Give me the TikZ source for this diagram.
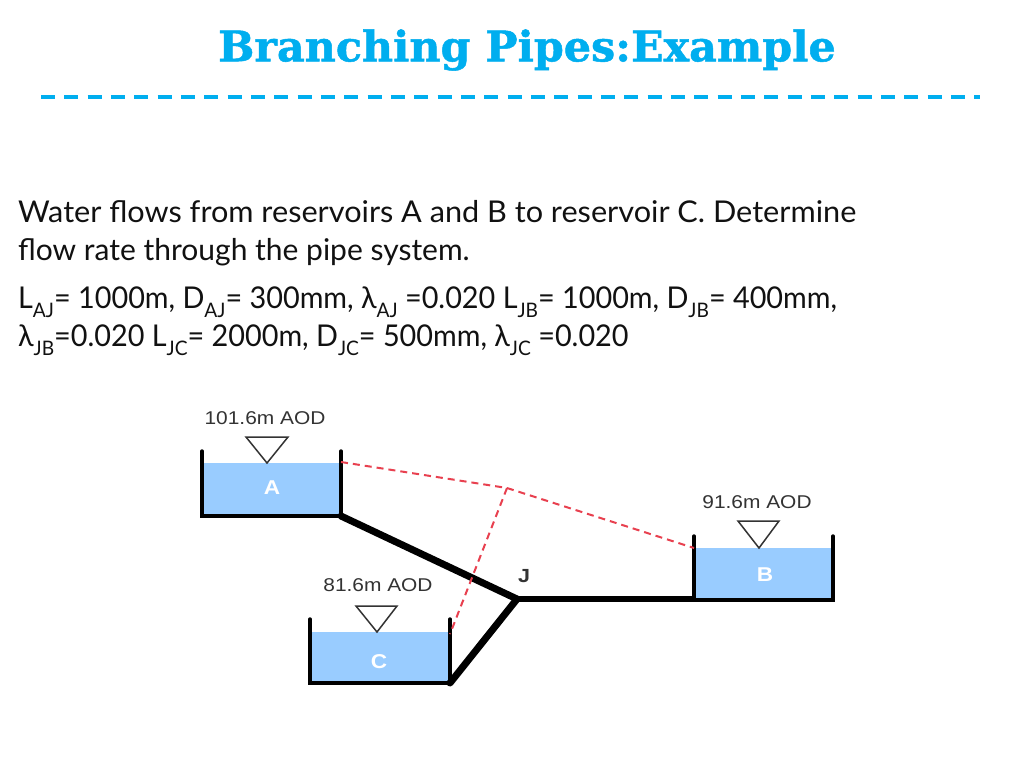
\documentclass[tikz,border=0pt]{standalone}
\usepackage{fontspec}
\setmainfont{Lato}
\newfontfamily\titlefont{DejaVu Serif}[FakeBold=1.2,FakeStretch=1.02]
\newfontfamily\labelfont{Liberation Sans}[FakeStretch=1.13]
\usetikzlibrary{calc}
\definecolor{titleblue}{HTML}{00AEEF}
\definecolor{water}{HTML}{99CCFF}
\definecolor{hgl}{HTML}{E8404F}
\definecolor{txt}{HTML}{111111}
\definecolor{lab}{HTML}{333333}
\newcommand{\lowtxt}[1]{\raisebox{-0.3em}{\fontsize{20}{20}\selectfont #1}}
\tikzset{
  x=1pt,y=-1pt,
  wall/.style={line width=3.4pt,draw=black,line cap=round,line join=miter},
  pipebig/.style={line width=7pt,draw=black,line cap=round},
  pipemid/.style={line width=5.5pt,draw=black,line cap=butt},
  gradeline/.style={draw=hgl,line width=2pt,dash pattern=on 7pt off 5pt},
  rule/.style={draw=titleblue,line width=3.3pt,dash pattern=on 14pt off 9.33pt},
  level/.style={draw=lab,line width=1.5pt,line join=miter},
  body/.style={anchor=base west,inner sep=0pt,text=txt,font=\fontsize{30}{30}\selectfont},
  aod/.style={inner sep=0pt,text=lab,font=\labelfont\fontsize{18.5}{18.5}\selectfont},
  tag/.style={inner sep=0pt,text=white,font=\labelfont\bfseries\fontsize{20}{20}\selectfont},
}
\begin{document}
\begin{tikzpicture}
\useasboundingbox (0,0) rectangle (1024,766);
\fill[white] (0,0) rectangle (1024,766);
% title
\node[inner sep=0pt,text=titleblue,font=\titlefont\bfseries\fontsize{42}{42}\selectfont] (title) at (527,50) {Branching Pipes:Example};
\coordinate (ruleL) at (41,97);
\coordinate (ruleR) at (980,97);
\draw[rule] (ruleL) -- (ruleR);
% text
\node[body] (line1) at (18,222) {\scalebox{1.022}[1]{Water flows from reservoirs A and B to reservoir C. Determine}};
\node[body] (line2) at (18,260) {flow rate through the pipe system.};
\node[body] (line3) at (18,308) {\scalebox{0.96}[1]{L\lowtxt{AJ}= 1000m, D\lowtxt{AJ}= 300mm, λ\lowtxt{AJ} =0.020 L\lowtxt{JB}= 1000m, D\lowtxt{JB}= 400mm,}};
\node[body] (line4) at (18,346) {\scalebox{0.96}[1]{λ\lowtxt{JB}=0.020 L\lowtxt{JC}= 2000m, D\lowtxt{JC}= 500mm, λ\lowtxt{JC} =0.020}};
% water
\fill[water] (202,463) rectangle (341,516);
\fill[water] (310,632) rectangle (450,683);
\fill[water] (694,548) rectangle (833,600);
% reference points
\coordinate (J) at (517,599);
\coordinate (Aout) at (341,516);
\coordinate (Cin) at (450,683);
\coordinate (Bout) at (694,599);
\coordinate (Alev) at (341,462);
\coordinate (Blev) at (694,548);
\coordinate (Clev) at (450,634);
\coordinate (Hj) at (507,488);
% pipes
\draw[pipebig] (Aout) -- (J);
\draw[pipebig] (Cin) -- (J);
\draw[pipemid] (J) -- (Bout);
% tanks
\draw[wall] (202,451) -- (202,516) -- (341,516) -- (341,451);
\draw[wall] (310,619) -- (310,683) -- (450,683) -- (450,619);
\draw[wall] (694,536) -- (694,600) -- (833,600) -- (833,536);
% grade lines
\draw[gradeline] (Alev) -- (Hj);
\draw[gradeline] (Hj) -- (Blev);
\draw[gradeline] (Hj) -- (Clev);
% level markers
\draw[level] (246,437) -- (288,437) -- (267,463) -- cycle;
\draw[level] (356,606) -- (397,606) -- (377,632) -- cycle;
\draw[level] (738,521) -- (779,521) -- (759,548) -- cycle;
% labels
\node[aod] (aodA) at (265,418) {101.6m AOD};
\node[aod] (aodC) at (378,585) {81.6m AOD};
\node[aod] (aodB) at (757,502) {91.6m AOD};
\node[tag] (tagA) at (272,488) {A};
\node[tag] (tagC) at (379,662) {C};
\node[tag] (tagB) at (765,575) {B};
\node[inner sep=0pt,text=lab,font=\labelfont\bfseries\fontsize{19}{19}\selectfont] (tagJ) at (524,576) {J};
\end{tikzpicture}
\end{document}
